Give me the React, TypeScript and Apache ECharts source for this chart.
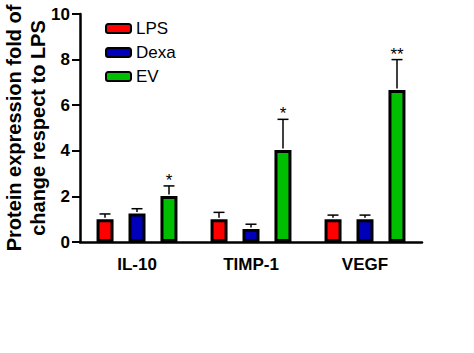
import React, { useEffect, useRef } from "react";
import * as echarts from "echarts";

const categories = ["IL-10", "TIMP-1", "VEGF"];
const seriesNames = ["LPS", "Dexa", "EV"];
const lpsValues = [1.0, 1.0, 1.0];
const lpsUpper = [1.23, 1.3, 1.18];
const dexaValues = [1.25, 0.57, 1.0];
const dexaUpper = [1.46, 0.78, 1.18];
const evValues = [2.02, 4.03, 6.67];
const evUpper = [2.46, 5.38, 8.0];
const evSignificance = ["*", "*", "**"];
const yTicks = [0, 2, 4, 6, 8, 10];

const colors = ["#ff0000", "#0000bb", "#00bf00"];
const FONT = "'Liberation Sans', Arial, sans-serif";

export default function App() {
  const ref = useRef<HTMLDivElement>(null);
  useEffect(() => {
    if (!ref.current) return;
    const chart = echarts.init(ref.current, null, { renderer: "svg" });
    const values = [lpsValues, dexaValues, evValues];
    const uppers = [lpsUpper, dexaUpper, evUpper];
    const pitch = 32;

    const barSeries = seriesNames.map((name, i) => ({
      type: "bar",
      name,
      data: values[i],
      barWidth: 17,
      barGap: "88%",
      itemStyle: { color: colors[i], borderColor: "#000", borderWidth: 3 },
      z: 2,
    }));

    const errSeries = seriesNames.map((name, i) => ({
      type: "custom",
      name: name + " error",
      z: 3,
      data: categories.map((_, k) => [k, values[i][k], uppers[i][k]]),
      encode: { x: 0, y: 1 },
      renderItem: (params: any, api: any) => {
        const k = api.value(0);
        const top = api.coord([k, api.value(1)]);
        const up = api.coord([k, api.value(2)]);
        const x = top[0] + (i - 1) * pitch;
        const capHalf = 5.5;
        const children: any[] = [
          { type: "line", shape: { x1: x, y1: top[1] - 1.5, x2: x, y2: up[1] }, style: { stroke: "#000", lineWidth: 1.5 } },
          { type: "line", shape: { x1: x - capHalf, y1: up[1], x2: x + capHalf, y2: up[1] }, style: { stroke: "#000", lineWidth: 1.5 } },
        ];
        const sig = i === 2 ? evSignificance[k] : "";
        if (sig) {
          children.push({
            type: "text",
            style: {
              text: sig,
              x,
              y: up[1] + 3,
              align: "center",
              verticalAlign: "bottom",
              fontSize: 17,
              fontFamily: FONT,
              fill: "#000",
            },
          });
        }
        return { type: "group", children };
      },
    }));

    chart.setOption({
      animation: false,
      textStyle: { fontFamily: FONT },
      legend: {
        data: seriesNames,
        orient: "vertical",
        left: 100,
        top: 15,
        itemWidth: 25,
        itemHeight: 9,
        itemGap: 7,
        textStyle: { fontSize: 17, color: "#000", fontFamily: FONT, lineHeight: 17 },
      },
      grid: { left: 80, right: 52, top: 14, bottom: 111, containLabel: false, outerBoundsMode: "none" },
      xAxis: {
        type: "category",
        data: categories,
        axisLine: { lineStyle: { color: "#000", width: 2.5 } },
        axisTick: { alignWithLabel: true, length: 8, lineStyle: { color: "#000", width: 2 } },
        axisLabel: { color: "#000", fontWeight: "bold", fontSize: 17, margin: 14, fontFamily: FONT },
      },
      yAxis: {
        type: "value",
        min: yTicks[0],
        max: yTicks[yTicks.length - 1],
        interval: 2,
        name: "Protein expression fold of\nchange respect to LPS",
        nameLocation: "middle",
        nameGap: 30,
        nameMoveOverlap: false,
        nameTextStyle: { color: "#000", fontWeight: "bold", fontSize: 20, lineHeight: 24, fontFamily: FONT },
        splitLine: { show: false },
        axisLine: { show: true, lineStyle: { color: "#000", width: 2.5 } },
        axisTick: { show: true, length: 8, lineStyle: { color: "#000", width: 2 } },
        axisLabel: { color: "#000", fontWeight: "bold", fontSize: 17, margin: 10, fontFamily: FONT },
      },
      series: [...barSeries, ...errSeries],
    });
    return () => chart.dispose();
  }, []);
  return <div ref={ref} style={{ position: "fixed", left: 0, top: 0, width: 474, height: 353, background: "#fff" }} />;
}
